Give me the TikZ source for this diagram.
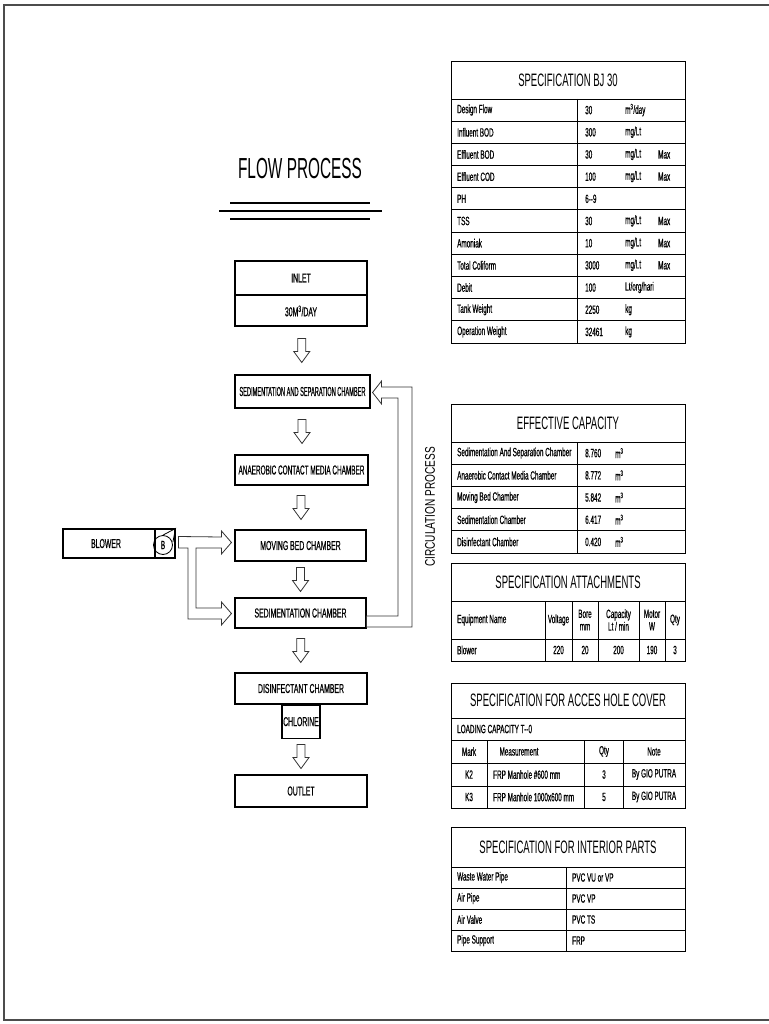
\documentclass[tikz,border=0pt]{standalone}
\usepackage{fontspec}
\setmainfont{Liberation Sans}
\newfontfamily\cad{Liberation Sans}[FakeStretch=0.53, FakeBold=0.5]
\newfontfamily\cadl{Liberation Sans}[FakeStretch=0.53]
\newfontfamily\arialc{Liberation Sans}[FakeStretch=0.72]
\usetikzlibrary{calc}
\tikzset{
  box/.style={draw, line width=1.1pt, inner sep=0pt, font=\cad\fontsize{13}{13}\selectfont},
  lbl/.style={inner sep=0pt, font=\cad\fontsize{13}{13}\selectfont},
  tt/.style={inner sep=0pt, anchor=west, font=\cad\fontsize{12}{12}\selectfont},
  tc/.style={inner sep=0pt, align=center, font=\cad\fontsize{12}{12.5}\selectfont},
  ttl/.style={inner sep=0pt, font=\cadl\fontsize{18}{18}\selectfont},
  tbl/.style={line width=0.9pt},
  hollow/.style={draw=black!80, line width=0.8pt, fill=white, line join=miter},
}
\newcommand\harrow[2]{%
  \coordinate (hm) at ($(#1.south)!0.5!(#2.north)$);
  \draw[hollow] ($(hm)+(-4,-12)$) -- ++(0,13) -- ++(-4,0) -- ++(8,11) -- ++(8,-11) -- ++(-4,0) -- ++(0,-13) -- cycle;}
\begin{document}
\begin{tikzpicture}[x=1pt,y=-1pt]
\useasboundingbox (0,0) rectangle (768,1024);
\draw[line width=2pt, black!70] (790,5) -- (4,5) -- (4,1020) -- (790,1020);

% ---------- flow process ----------
\node[inner sep=0pt, font=\cadl\fontsize{29}{29}\selectfont] (fp) at (300,169) {FLOW PROCESS};
\draw[line width=1.2pt] (230,203) -- (370,203);
\draw[line width=1.2pt] (219,211) -- (382,211);
\draw[line width=1.2pt] (230,219) -- (370,219);

\node[box, minimum width=132, minimum height=65] (inlet) at (301,293.5) {};
\draw[line width=1.1pt] ($(inlet.north west)!0.523!(inlet.south west)$) -- ($(inlet.north east)!0.523!(inlet.south east)$);
\node[lbl] (inlett) at (301,278) {INLET};
\node[lbl] (inletq) at (301,311) {30M\textsuperscript{3}/DAY};

\node[box, minimum width=135, minimum height=33] (ssc) at (302.5,391.5) {\scalebox{0.82}[1]{SEDIMENTATION AND SEPARATION CHAMBER}};
\node[box, minimum width=133, minimum height=30] (acm) at (301.5,470) {\scalebox{0.93}[1]{ANAEROBIC CONTACT MEDIA CHAMBER}};
\node[box, minimum width=131, minimum height=31] (mbc) at (300.5,545.5) {MOVING BED CHAMBER};
\node[box, minimum width=131, minimum height=30] (sc) at (300.5,613) {SEDIMENTATION CHAMBER};
\node[box, minimum width=132, minimum height=31] (dc) at (301,688.5) {DISINFECTANT CHAMBER};
\node[box, minimum width=38, minimum height=33, anchor=north] (chl) at (dc.south) {CHLORINE};
\node[box, minimum width=132, minimum height=32] (out) at (301,791) {OUTLET};

\harrow{inlet}{ssc}
\harrow{ssc}{acm}
\harrow{acm}{mbc}
\harrow{mbc}{sc}
\harrow{sc}{dc}
\harrow{chl}{out}

% blower
\node[box, minimum width=112, minimum height=29] (bl) at (119,543.5) {};
\draw[line width=1.1pt] (155,529) -- (155,558);
\node[lbl] (blt) at (106,543.5) {BLOWER};
\node[draw, circle, line width=0.8pt, minimum size=19, inner sep=0pt, font=\cad\fontsize{12}{12}\selectfont] (bc) at (163,545) {B};
\draw[line width=0.8pt] (bc.north) -- (bl.north east) -- ($(bc.east)+(0,-3)$);

% blower air pipe
\coordinate (tipa) at ($(mbc.west)+(-3,-3)$);
\coordinate (tipb) at ($(sc.west)+(-3,0.5)$);
\draw[hollow] ($(bl.east)+(3,-7)$) -- ($(tipa)+(-10,-5.5)$) -- ($(tipa)+(-10,-11.5)$) -- (tipa)
  -- ($(tipa)+(-10,11.5)$) -- ($(tipa)+(-10,5.5)$) -- (196,548) -- (196,608) -- ($(tipb)+(-10,-5.5)$)
  -- ($(tipb)+(-10,-11.5)$) -- (tipb) -- ($(tipb)+(-10,11.5)$) -- ($(tipb)+(-10,5.5)$) -- (188,619)
  -- (188,548) -- ($(bl.east)+(3,4.5)$) -- cycle;

% circulation pipe
\coordinate (ca) at ($(sc.east)+(0,3)$);
\coordinate (cb) at ($(ssc.east)+(2,1)$);
\draw[hollow] (ca) -- (398,616) -- (398,398) -- ($(cb)+(9,5.5)$) -- ($(cb)+(9,11.5)$) -- (cb)
  -- ($(cb)+(9,-11.5)$) -- ($(cb)+(9,-5.5)$) -- (412,387) -- (412,627) -- ($(sc.east)+(0,14)$) -- cycle;
\node[inner sep=0pt, rotate=90, font=\arialc\fontsize{14}{14}\selectfont] (circ) at (430,507) {CIRCULATION PROCESS};

% ---------- table 1 ----------
\draw[tbl] (451,61) rectangle (685,343);
\draw[tbl] (451,99) -- (685,99);
\foreach \i in {1,...,10} \draw[tbl] (451,{99+22.18*\i}) -- (685,{99+22.18*\i});
\draw[tbl] (577,99) -- (577,343);
\node[ttl] (t1) at (568,80) {SPECIFICATION BJ 30};
\foreach [count=\i] \a/\b/\c in {{Design Flow}/{30}/{m\textsuperscript{3}/day}, {Influent BOD}/{300}/{mg/Lt},
  {Effluent BOD}/{30}/{mg/Lt}, {Effluent COD}/{100}/{mg/Lt}, {PH}/{6--9}/{}, {TSS}/{30}/{mg/Lt},
  {Amoniak}/{10}/{mg/Lt}, {Total Coliform}/{3000}/{mg/Lt}, {Debit}/{100}/{Lt/org/hari},
  {Tank Weight}/{2250}/{kg}, {Operation Weight}/{32461}/{kg}} {
  \pgfmathsetmacro\yy{99+22.18*(\i-0.5)}
  \node[tt] (s1a\i) at (457,\yy) {\a};
  \node[tt] (s1b\i) at (585,\yy) {\b};
  \node[tt] (s1c\i) at (625,\yy) {\c};
}
\foreach \i in {3,4,6,7,8} \node[tt] (s1m\i) at (658,{99+22.18*(\i-0.5)}) {Max};

% ---------- table 2 ----------
\draw[tbl] (451,404) rectangle (685,553);
\draw[tbl] (451,442) -- (685,442);
\foreach \i in {1,...,4} \draw[tbl] (451,{442+22.2*\i}) -- (685,{442+22.2*\i});
\draw[tbl] (577,442) -- (577,553);
\node[ttl] (t2) at (568,423) {EFFECTIVE CAPACITY};
\foreach [count=\i] \a/\b in {{Sedimentation And Separation Chamber}/{8.760}, {Anaerobic Contact Media Chamber}/{8.772},
  {Moving Bed Chamber}/{5.842}, {Sedimentation Chamber}/{6.417}, {Disinfectant Chamber}/{0.420}} {
  \pgfmathsetmacro\yy{442+22.2*(\i-0.5)}
  \node[tt] (s2a\i) at (457,\yy) {\a};
  \node[tt] (s2b\i) at (585,\yy) {\b};
  \node[tt] (s2c\i) at (615,\yy) {m\textsuperscript{3}};
}

% ---------- table 3 ----------
\draw[tbl] (451,563) rectangle (685,661);
\draw[tbl] (451,601) -- (685,601);
\draw[tbl] (451,639) -- (685,639);
\foreach \x in {545,572,598,639,665} \draw[tbl] (\x,601) -- (\x,661);
\node[ttl] (t3) at (568,582) {SPECIFICATION ATTACHMENTS};
\node[tt] (s3h1) at (457,620) {Equipment Name};
\node[tc] (s3h2) at (558.5,620) {Voltage};
\node[tc] (s3h3) at (585,620) {Bore\\mm};
\node[tc] (s3h4) at (618.5,620) {Capacity\\Lt / min};
\node[tc] (s3h5) at (652,620) {Motor\\W};
\node[tc] (s3h6) at (675,620) {Qty};
\node[tt] (s3d1) at (457,650) {Blower};
\node[tc] (s3d2) at (558.5,650) {220};
\node[tc] (s3d3) at (585,650) {20};
\node[tc] (s3d4) at (618.5,650) {200};
\node[tc] (s3d5) at (652,650) {190};
\node[tc] (s3d6) at (675,650) {3};

% ---------- table 4 ----------
\draw[tbl] (451,683) rectangle (685,808);
\foreach \y in {718,740,763,786} \draw[tbl] (451,\y) -- (685,\y);
\foreach \x in {487,584,623} \draw[tbl] (\x,740) -- (\x,808);
\node[ttl] (t4) at (568,700.5) {SPECIFICATION FOR ACCES HOLE COVER};
\node[tt] (s4l) at (457,729) {LOADING CAPACITY T--0};
\node[tc] (s4h1) at (469,751.5) {Mark};
\node[tc] (s4h2) at (519,751.5) {Measurement};
\node[tc] (s4h3) at (604,751.5) {Qty};
\node[tc] (s4h4) at (654,751.5) {Note};
\node[tc] (s4a1) at (469,774.5) {K2};
\node[tt] (s4a2) at (493,774.5) {FRP Manhole \#600 mm};
\node[tc] (s4a3) at (604,774.5) {3};
\node[tc] (s4a4) at (654,774.5) {By GIO PUTRA};
\node[tc] (s4b1) at (469,797) {K3};
\node[tt] (s4b2) at (493,797) {FRP Manhole 1000x600 mm};
\node[tc] (s4b3) at (604,797) {5};
\node[tc] (s4b4) at (654,797) {By GIO PUTRA};

% ---------- table 5 ----------
\draw[tbl] (451,827) rectangle (685,951);
\foreach \y in {867,888,909,930} \draw[tbl] (451,\y) -- (685,\y);
\draw[tbl] (566,867) -- (566,951);
\node[ttl] (t5) at (568,847) {SPECIFICATION FOR INTERIOR PARTS};
\foreach [count=\i] \a/\b in {{Waste Water Pipe}/{PVC VU or VP}, {Air Pipe}/{PVC VP}, {Air Valve}/{PVC TS}, {Pipe Support}/{FRP}} {
  \pgfmathsetmacro\yy{867+21*(\i-0.5)}
  \node[tt] (s5a\i) at (457,\yy) {\a};
  \node[tt] (s5b\i) at (572,\yy) {\b};
}
\end{tikzpicture}
\end{document}
